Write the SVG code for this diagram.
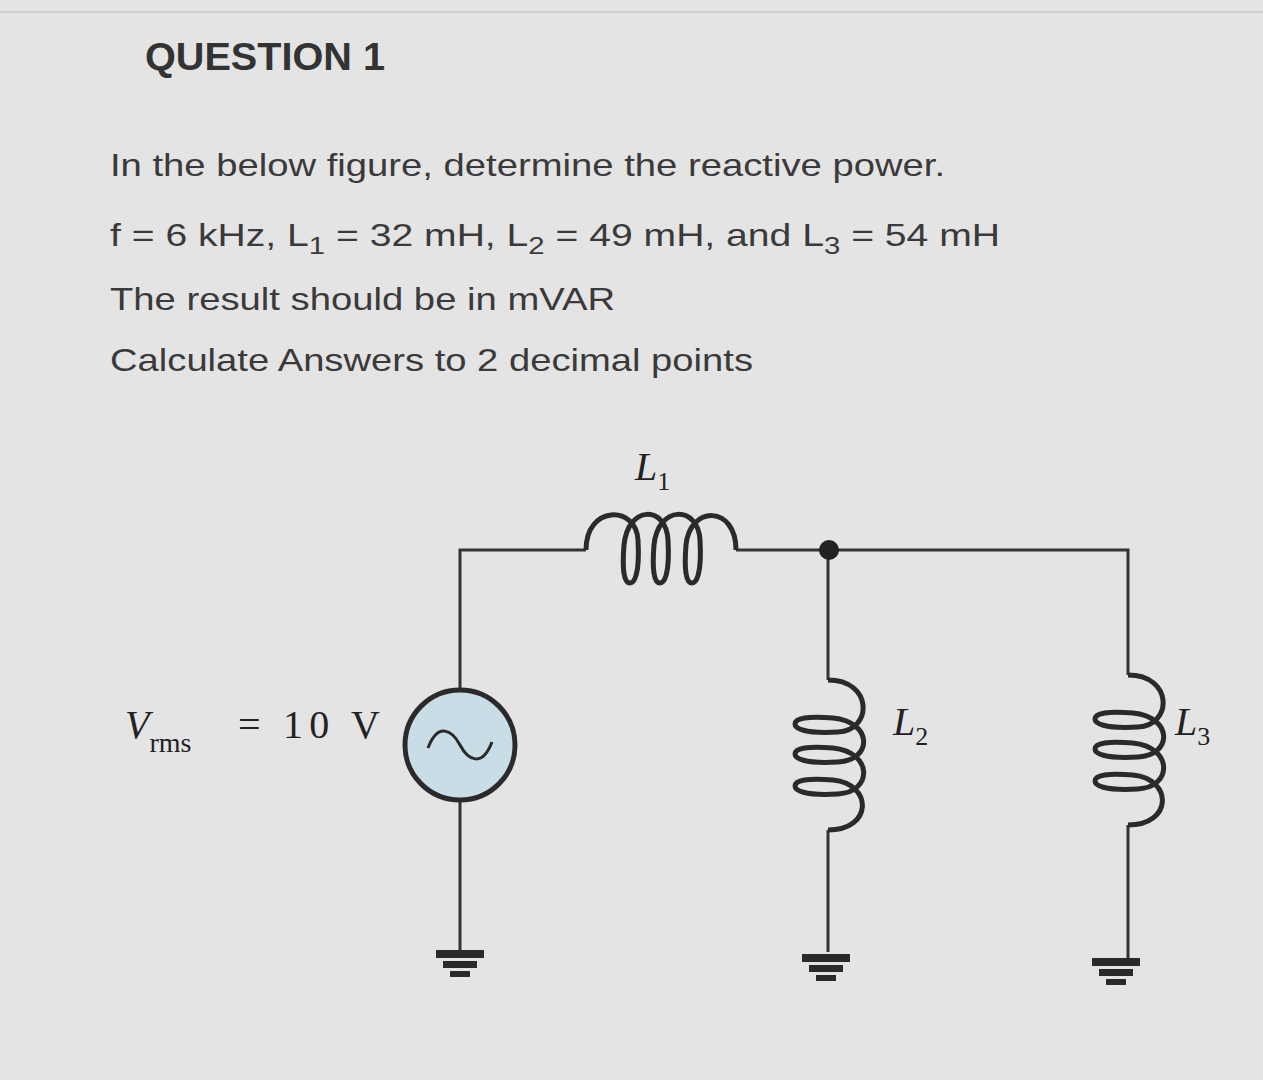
<svg xmlns="http://www.w3.org/2000/svg" xmlns:xlink="http://www.w3.org/1999/xlink" width="1263" height="1080" viewBox="0 0 1263 1080">
<style>
.t{font-family:"Liberation Sans",Arial,sans-serif;font-size:32px;fill:#3a3a3a}
.s{font-family:"Liberation Serif","Times New Roman",serif;font-size:40px;fill:#222}
.w{fill:none;stroke:#333;stroke-width:3}
.c{fill:none;stroke:#2a2a2a;stroke-width:5;stroke-linejoin:round}
</style>
<defs>
<path id="coil" class="c" d="M0,0 C0,-45 50,-45 52,-10 C54,25 48,33 44,33 C38,33 36,20 38,-5 C42,-45 80,-45 82,-10 C84,25 78,33 74,33 C68,33 66,20 68,-5 C72,-45 112,-45 114,-10 C116,25 110,33 106,33 C100,33 98,20 100,-5 C104,-45 150,-45 150,0"/>
<g id="gnd"><rect x="-24" y="0" width="48" height="8" fill="#2a2a2a"/><rect x="-17" y="11" width="34" height="7" fill="#2a2a2a"/><rect x="-10" y="21" width="20" height="6" fill="#2a2a2a"/></g>
</defs>
<rect width="1263" height="1080" fill="#e4e4e4"/>
<line x1="0" y1="12" x2="1263" y2="12" stroke="#cfcfcf" stroke-width="2"/>
<text x="145" y="70" textLength="240" lengthAdjust="spacingAndGlyphs" style="font-family:'Liberation Sans',Arial,sans-serif;font-size:38px;font-weight:bold;fill:#333">QUESTION 1</text>
<text class="t" x="110" y="176" textLength="835" lengthAdjust="spacingAndGlyphs">In the below figure, determine the reactive power.</text>
<text class="t" x="110" y="246" textLength="890" lengthAdjust="spacingAndGlyphs">f = 6 kHz, L<tspan dy="8" font-size="24">1</tspan><tspan dy="-8"> = 32 mH, L</tspan><tspan dy="8" font-size="24">2</tspan><tspan dy="-8"> = 49 mH, and L</tspan><tspan dy="8" font-size="24">3</tspan><tspan dy="-8"> = 54 mH</tspan></text>
<text class="t" x="110" y="310" textLength="505" lengthAdjust="spacingAndGlyphs">The result should be in mVAR</text>
<text class="t" x="110" y="371" textLength="643" lengthAdjust="spacingAndGlyphs">Calculate Answers to 2 decimal points</text>
<g id="connectors">
<path class="w" d="M460,690 V550 H586"/>
<path class="w" d="M736,550 H1128 V675"/>
<path class="w" d="M828,550 V680"/>
<path class="w" d="M460,800 V950"/>
<path class="w" d="M828,830 V952"/>
<path class="w" d="M1128,825 V958"/>
</g>
<g id="L1"><use xlink:href="#coil" transform="translate(586,550)"/><text class="s" x="635" y="480" font-style="italic">L<tspan dy="10" font-size="26" font-style="normal">1</tspan></text></g>
<g id="node"><circle cx="829" cy="550" r="10" fill="#222"/></g>
<g id="L2"><use xlink:href="#coil" transform="translate(828,680) rotate(90)"/><text class="s" x="893" y="735" font-style="italic">L<tspan dy="10" font-size="26" font-style="normal">2</tspan></text></g>
<g id="L3"><use xlink:href="#coil" transform="translate(1128,675) rotate(90)"/><text class="s" x="1175" y="735" font-style="italic">L<tspan dy="10" font-size="26" font-style="normal">3</tspan></text></g>
<g id="source"><circle cx="460" cy="745" r="55" fill="#c9dde6" stroke="#2a2a2a" stroke-width="5"/><path d="M428,748 C438,722 452,730 460,745 C468,760 482,768 492,742" fill="none" stroke="#2a2a2a" stroke-width="3"/>
<text class="s" x="125" y="738"><tspan font-style="italic">V</tspan><tspan dy="14" font-size="28">rms</tspan></text>
<text class="s" x="238" y="738" textLength="142" lengthAdjust="spacing">= 10 V</text></g>
<g id="g1"><use xlink:href="#gnd" transform="translate(460,950)"/></g>
<g id="g2"><use xlink:href="#gnd" transform="translate(826,954)"/></g>
<g id="g3"><use xlink:href="#gnd" transform="translate(1116,958)"/></g>
</svg>
